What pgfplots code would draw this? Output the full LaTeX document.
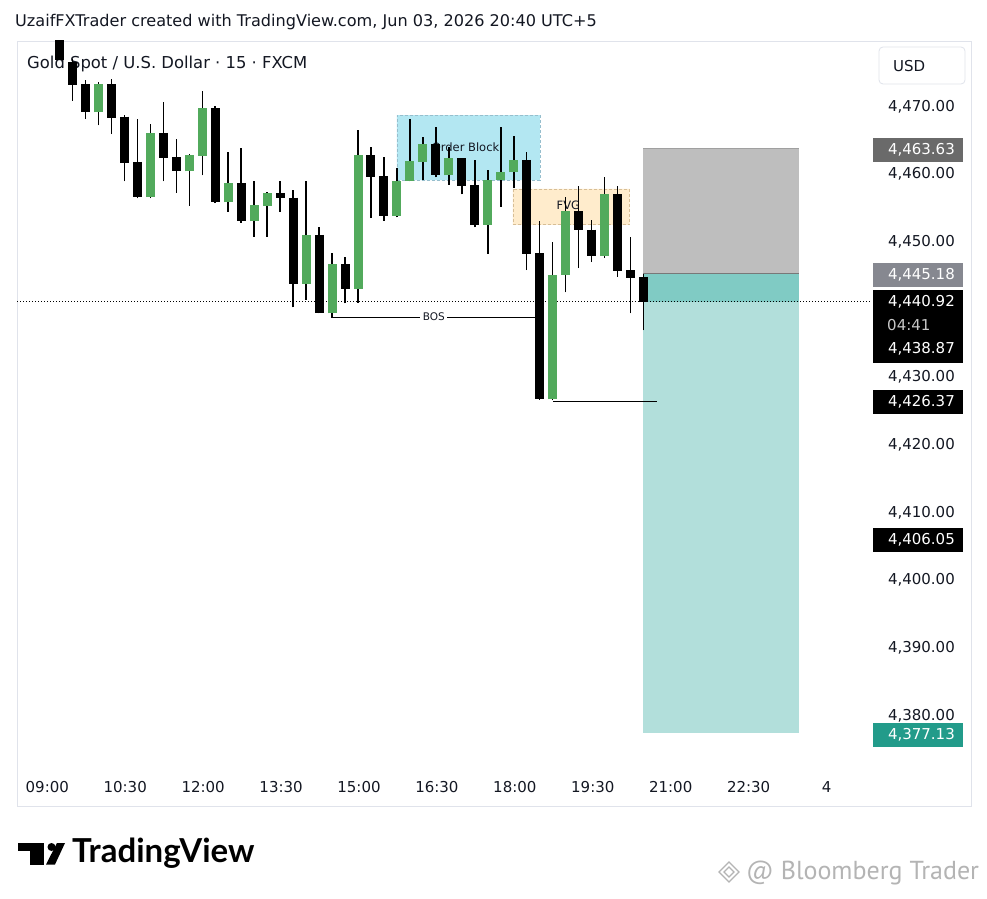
\documentclass[border=0pt]{standalone}
\usepackage{fontspec}
\setmainfont{DejaVu Sans}
\newfontfamily\logofont{Lato}
\newfontfamily\wmfont{PT Sans}
\usepackage{pgfplots}
\pgfplotsset{compat=1.18}
\usepackage{pgfplotstable}
\definecolor{tvgreen}{RGB}{82,170,92}
\definecolor{tvtext}{RGB}{19,23,34}
\definecolor{framegray}{RGB}{224,227,235}
\definecolor{stopgray}{RGB}{190,190,190}
\definecolor{tealdark}{RGB}{128,203,196}
\definecolor{teallight}{RGB}{178,223,219}
\definecolor{obfill}{RGB}{179,231,242}
\definecolor{obline}{RGB}{150,190,205}
\definecolor{fvgfill}{RGB}{255,236,204}
\definecolor{fvgline}{RGB}{215,190,150}
\definecolor{lbldark}{RGB}{106,106,106}
\definecolor{lblgray}{RGB}{134,136,144}
\definecolor{lblteal}{RGB}{34,155,138}
\definecolor{wmgray}{RGB}{180,180,180}
\definecolor{entrygray}{RGB}{120,120,120}

\pgfplotstableread{
t o h l c g
9.25 4481.0 4482.0 4476.6 4476.7 0
9.50 4476.4 4476.8 4470.6 4473.0 0
9.75 4473.1 4473.7 4467.9 4468.9 0
10.00 4468.9 4473.4 4467.0 4473.1 1
10.25 4473.1 4473.8 4465.7 4468.1 0
10.50 4468.3 4468.5 4458.7 4461.5 0
10.75 4461.6 4468.0 4456.2 4456.4 0
11.00 4456.4 4467.2 4456.2 4465.9 1
11.25 4465.9 4470.5 4458.7 4462.2 0
11.50 4462.3 4465.0 4457.0 4460.2 0
11.75 4460.2 4462.7 4455.1 4462.6 1
12.00 4462.5 4472.0 4459.6 4469.5 1
12.25 4469.5 4469.8 4455.5 4455.6 0
12.50 4455.6 4463.1 4454.2 4458.5 1
12.75 4458.5 4463.6 4452.6 4452.8 0
13.00 4452.8 4458.8 4450.5 4455.2 1
13.25 4455.1 4457.2 4450.5 4457.0 1
13.50 4457.0 4458.8 4454.2 4456.2 0
13.75 4456.3 4457.5 4440.1 4443.6 0
14.00 4443.6 4458.8 4441.2 4450.8 1
14.25 4450.8 4451.9 4439.2 4439.2 0
14.50 4439.2 4448.2 4438.7 4446.5 1
14.75 4446.5 4447.6 4440.7 4442.8 0
15.00 4442.8 4466.3 4440.8 4462.6 1
15.25 4462.6 4463.8 4453.3 4459.4 0
15.50 4459.5 4462.3 4452.9 4453.6 0
15.75 4453.6 4460.7 4453.4 4458.8 1
16.00 4458.8 4467.9 4458.7 4461.7 1
16.25 4461.6 4465.3 4458.9 4464.2 1
16.50 4464.2 4466.7 4459.3 4459.6 0
16.75 4459.6 4463.8 4458.2 4462.1 1
17.00 4462.1 4462.2 4456.8 4458.1 0
17.25 4458.2 4461.9 4451.9 4452.3 0
17.50 4452.3 4460.4 4448.0 4458.9 1
17.75 4458.9 4466.7 4455.0 4460.1 1
18.00 4460.1 4465.4 4457.7 4461.9 1
18.25 4461.9 4463.0 4445.6 4448.0 0
18.50 4448.1 4452.8 4426.45 4426.5 0
18.75 4426.5 4449.8 4426.37 4444.9 1
19.00 4444.9 4456.4 4442.3 4454.3 1
19.25 4454.3 4458.0 4445.9 4451.6 0
19.50 4451.6 4453.0 4446.8 4447.7 0
19.75 4447.7 4459.3 4447.4 4456.8 1
20.00 4456.8 4458.0 4444.6 4445.5 0
20.25 4445.6 4450.5 4439.2 4444.5 0
20.50 4444.6 4445.0 4436.7 4440.92 0
}\candles

\begin{document}
\begin{tikzpicture}[x=1pt,y=1pt]
\useasboundingbox (0,0) rectangle (987,898);
\fill[white] (0,0) rectangle (987,898);
% header
\node[anchor=west, inner sep=0pt, text=tvtext, font=\fontsize{16.1}{19}\selectfont] at (15,876) {UzaifFXTrader created with TradingView.com, Jun 03, 2026 20:40 UTC+5};
% chart frame
\draw[framegray, line width=0.8pt] (17,92) rectangle (971,857);
% legend title
\node[anchor=west, inner sep=0pt, text=tvtext, font=\fontsize{16.4}{19}\selectfont] at (27,834) {Gold Spot / U.S. Dollar · 15 · FXCM};

\begin{axis}[
  at={(17pt,128pt)}, anchor=south west,
  width=855pt, height=729pt, scale only axis,
  xmin=8.436, xmax=24.894, ymin=4371.73, ymax=4479.46,
  axis line style={draw=none},
  tick style={draw=none},
  major tick length=0pt,
  xtick={9,10.5,12,13.5,15,16.5,18,19.5,21,22.5,24},
  xticklabels={09:00,10:30,12:00,13:30,15:00,16:30,18:00,19:30,21:00,22:30,4},
  xticklabel style={anchor=center, xshift=1pt, yshift=-17pt, inner sep=0pt, font=\fontsize{15}{18}\selectfont, text=tvtext},
  ytick={4380,4390,4400,4410,4420,4430,4450,4460,4470},
  yticklabel pos=right,
  scaled y ticks=false,
  yticklabel style={anchor=east, xshift=83pt, yshift=-1.5pt, inner sep=0pt, font=\fontsize{15}{18}\selectfont, text=tvtext,
    /pgf/number format/fixed, /pgf/number format/fixed zerofill, /pgf/number format/precision=2,
    /pgf/number format/1000 sep={,}, /pgf/number format/assume math mode=true},
  colormap={cdl}{color=(black) color=(tvgreen)},
  point meta min=0, point meta max=1,
]
% position tool zones
\addplot[draw=none, fill=stopgray] coordinates {(20.49,4445.18) (23.49,4445.18) (23.49,4463.63) (20.49,4463.63)};
\addplot[draw=none, fill=teallight] coordinates {(20.49,4377.13) (23.49,4377.13) (23.49,4440.92) (20.49,4440.92)};
\addplot[draw=none, fill=tealdark] coordinates {(20.49,4440.92) (23.49,4440.92) (23.49,4445.18) (20.49,4445.18)};
\addplot[entrygray, line width=0.8pt] coordinates {(20.49,4445.18) (23.49,4445.18)};
\addplot[entrygray!70, line width=0.6pt] coordinates {(20.49,4463.63) (23.49,4463.63)};
% order block
\addplot[fill=obfill, draw=obline, densely dashed, line width=0.6pt] coordinates {(15.75,4458.9) (18.50,4458.9) (18.50,4468.5) (15.75,4468.5) (15.75,4458.9)};
\node[text=tvtext, font=\fontsize{11.5}{13}\selectfont] at (axis cs:17.07,4463.8) {Order Block};
% FVG
\addplot[fill=fvgfill, draw=fvgline, densely dashed, line width=0.6pt] coordinates {(17.98,4452.3) (20.23,4452.3) (20.23,4457.6) (17.98,4457.6) (17.98,4452.3)};
\node[text=tvtext, font=\fontsize{11.5}{13}\selectfont] at (axis cs:19.05,4455.2) {FVG};
% current price dotted line
\addplot[black, line width=0.8pt, dash pattern=on 1pt off 2pt] coordinates {(8.436,4440.92) (24.894,4440.92)};
% BOS line
\addplot[black, line width=0.9pt] coordinates {(14.48,4438.67) (18.41,4438.67)};
\node[fill=white, inner sep=2.5pt, text=tvtext, font=\fontsize{10.5}{12}\selectfont] at (axis cs:16.46,4438.67) {BOS};
% low line
\addplot[black, line width=0.9pt] coordinates {(18.76,4426.2) (20.76,4426.2)};
% wicks
\addplot[black, -, quiver={u=0, v=\thisrow{h}-\thisrow{l}, every arrow/.append style={line width=1.3pt}}] table[x=t, y=l] {\candles};
% bodies
\addplot[-, point meta=\thisrow{g}, quiver={u=0, v=\thisrow{c}-\thisrow{o}, colored=mapped color, every arrow/.append style={line width=9pt}}] table[x=t, y=o] {\candles};
\end{axis}

% USD box
\draw[framegray, rounded corners=4pt, fill=white, line width=0.8pt] (879,814) rectangle (965,851);
\node[anchor=west, inner sep=0pt, text=tvtext, font=\fontsize{15}{18}\selectfont] at (893,832) {USD};
% price labels
\fill[lbldark] (873,736) rectangle (963,760);
\node[anchor=east, inner sep=0pt, text=white, font=\fontsize{15}{18}\selectfont] at (955,748) {4,463.63};
\fill[lblgray] (873,611) rectangle (963,635);
\node[anchor=east, inner sep=0pt, text=white, font=\fontsize{15}{18}\selectfont] at (955,623) {4,445.18};
\fill[black] (873,535) rectangle (963,608);
\node[anchor=east, inner sep=0pt, text=white, font=\fontsize{15}{18}\selectfont] at (955,596) {4,440.92};
\node[anchor=west, inner sep=0pt, text=black!22, font=\fontsize{15}{18}\selectfont] at (887,573) {04:41};
\node[anchor=east, inner sep=0pt, text=white, font=\fontsize{15}{18}\selectfont] at (955,549) {4,438.87};
\fill[black] (873,484) rectangle (963,508);
\node[anchor=east, inner sep=0pt, text=white, font=\fontsize{15}{18}\selectfont] at (955,496) {4,426.37};
\fill[black] (873,346) rectangle (963,370);
\node[anchor=east, inner sep=0pt, text=white, font=\fontsize{15}{18}\selectfont] at (955,358) {4,406.05};
\fill[lblteal] (873,151) rectangle (963,175);
\node[anchor=east, inner sep=0pt, text=white, font=\fontsize{15}{18}\selectfont] at (955,163) {4,377.13};

% TradingView logo
\fill[black] (18,47) rectangle (44,55);
\fill[black] (30,33.5) rectangle (44,55);
\fill[black] (51.5,51) circle (4);
\fill[black] (57,55) -- (65,55) -- (55,33.5) -- (46,33.5) -- cycle;
\node[anchor=west, inner sep=0pt, font=\logofont\bfseries\fontsize{33}{38}\selectfont] at (72,45) {TradingView};

% watermark
\draw[wmgray, line width=1.2pt] (729,36) -- (739,26) -- (729,16) -- (719,26) -- cycle;
\draw[wmgray, line width=1.2pt] (729,31) -- (734,26) -- (729,21) -- (724,26) -- cycle;
\node[anchor=west, inner sep=0pt, text=wmgray, font=\wmfont\fontsize{26}{30}\selectfont] at (746,25) {@ Bloomberg Trader};
\end{tikzpicture}
\end{document}
